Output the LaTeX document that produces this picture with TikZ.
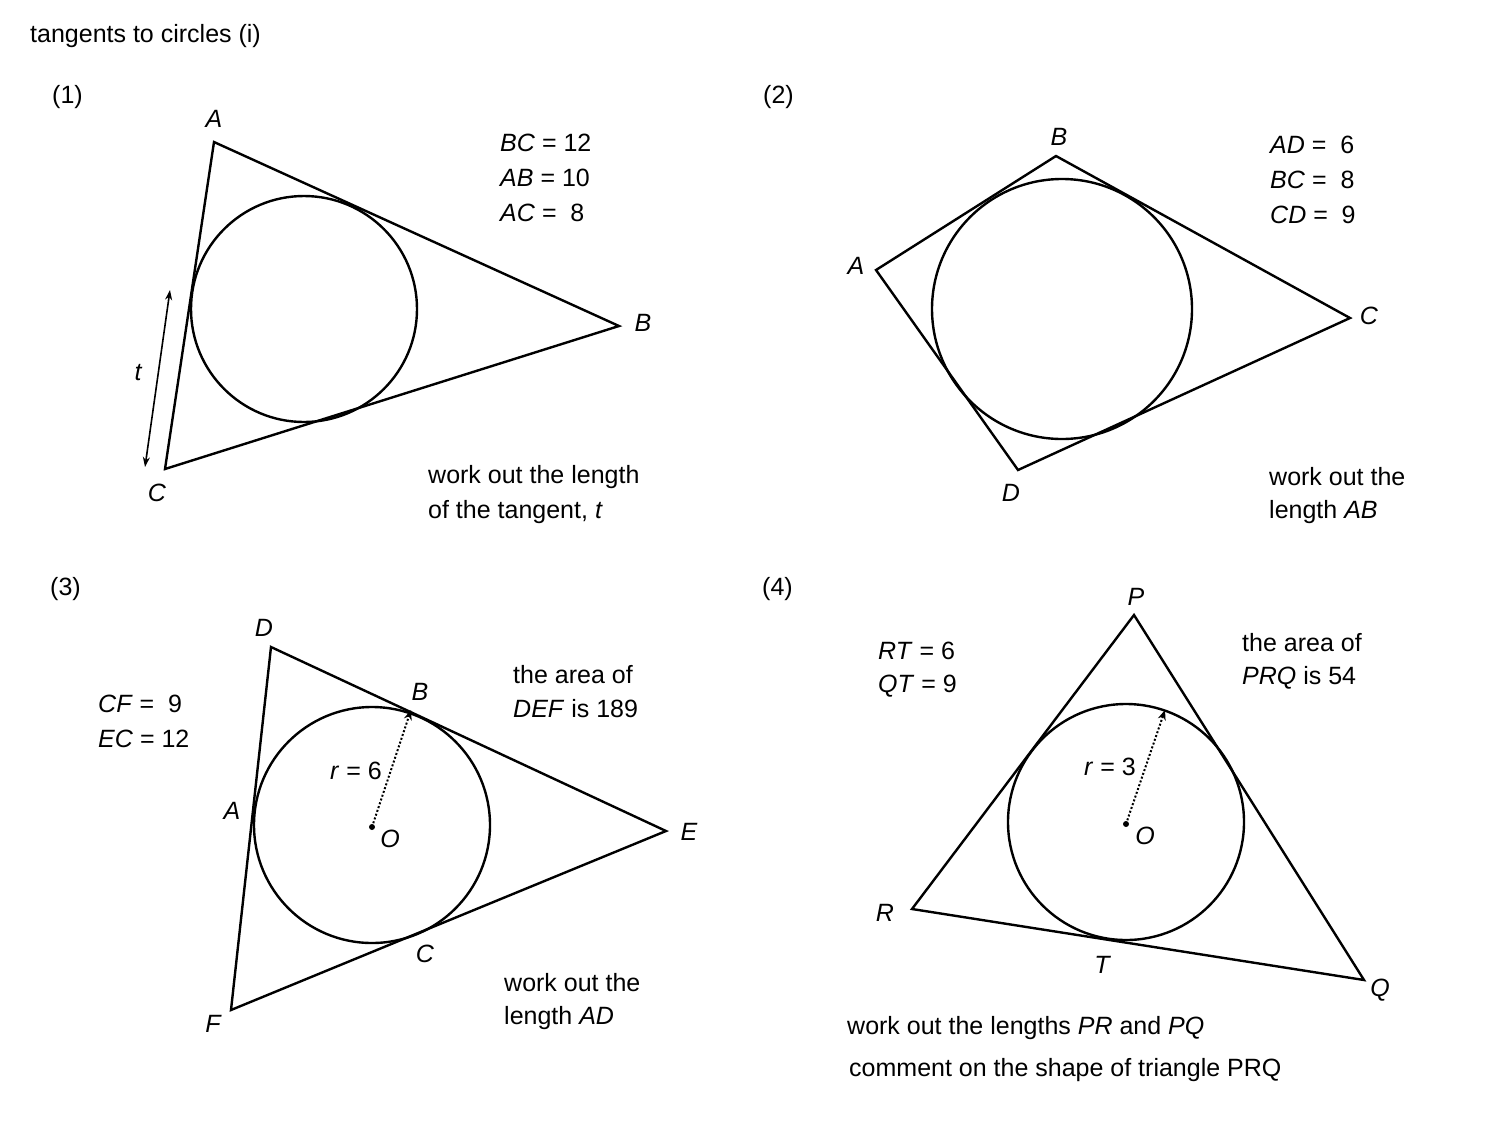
\documentclass[tikz,border=0pt]{standalone}
\usepackage{fontspec}
\setmainfont{Liberation Sans}
\usetikzlibrary{arrows.meta}
\begin{document}
\begin{tikzpicture}[x=1pt,y=-1pt,
  shp/.style={line width=2.4pt,line join=miter},
  lab/.style={font=\fontsize{25}{30}\selectfont\itshape,inner sep=0pt},
  txt/.style={font=\fontsize{25}{30}\selectfont,anchor=west,inner sep=0pt},
  darr/.style={dotted,line width=2pt,-{Stealth[length=10pt,width=8pt]}},
  tarr/.style={line width=1.6pt,{Stealth[length=10pt,width=7pt]}-{Stealth[length=10pt,width=7pt]}}]
\useasboundingbox (0,0) rectangle (1496,1125);
\node[txt] (title) at (30,36) {tangents to circles (i)};
\node[txt] (n1) at (52,97) {(1)};
\node[txt] (n2) at (763,97) {(2)};
\node[txt] (n3) at (50,589) {(3)};
\node[txt] (n4) at (762,589) {(4)};
% (1)
\coordinate (A1) at (214,142); \coordinate (B1) at (619,326); \coordinate (C1) at (165,469);
\draw[shp] (A1)--(B1)--(C1)--cycle;
\draw[shp] (304,309) circle (113);
\coordinate (t1) at (170,290); \coordinate (t2) at (145,467);
\draw[tarr] (t1)--(t2);
\node[lab] (tl) at (138,373) {t};
\node[lab] (la1) at (214,119) {A};
\node[lab] (lb1) at (643,323) {B};
\node[lab] (lc1) at (157,493) {C};
\node[txt] (g1a) at (500,143) {\textit{BC} = 12};
\node[txt] (g1b) at (500,178) {\textit{AB} = 10};
\node[txt] (g1c) at (500,213) {\textit{AC} = \ 8};
\node[txt] (q1a) at (428,477) {work out the length};
\node[txt] (q1b) at (428,512) {of the tangent, \textit{t}};
% (2)
\coordinate (A2) at (876,270); \coordinate (B2) at (1056,156); \coordinate (C2) at (1350,318); \coordinate (D2) at (1018,470);
\draw[shp] (A2)--(B2)--(C2)--(D2)--cycle;
\draw[shp] (1062,309) circle (130);
\node[lab] (lb2) at (1059,137) {B};
\node[lab] (la2) at (856,266) {A};
\node[lab] (lc2) at (1369,316) {C};
\node[lab] (ld2) at (1011,493) {D};
\node[txt] (g2a) at (1270,145) {\textit{AD} = \ 6};
\node[txt] (g2b) at (1270,180) {\textit{BC} = \ 8};
\node[txt] (g2c) at (1270,215) {\textit{CD} = \ 9};
\node[txt] (q2a) at (1269,477) {work out the};
\node[txt] (q2b) at (1269,512) {length \textit{AB}};
% (3)
\coordinate (D3) at (271,647); \coordinate (E3) at (666,831); \coordinate (F3) at (231,1010);
\draw[shp] (D3)--(E3)--(F3)--cycle;
\draw[shp] (372,825) circle (118);
\coordinate (O3) at (372,827); \coordinate (T3) at (411,710);
\fill (O3) circle (3);
\draw[darr] (O3)--(T3);
\node[lab] (ld3) at (264,628) {D};
\node[lab] (lb3) at (420,692) {B};
\node[lab] (la3) at (232,811) {A};
\node[lab] (le3) at (689,832) {E};
\node[lab] (lc3) at (425,954) {C};
\node[lab] (lf3) at (213,1024) {F};
\node[lab] (lo3) at (390,839) {O};
\node[txt,anchor=center] (r3) at (356,771) {\textit{r} = 6};
\node[txt] (g3a) at (98,704) {\textit{CF} = \ 9};
\node[txt] (g3b) at (98,739) {\textit{EC} = 12};
\node[txt] (a3a) at (513,675) {the area of};
\node[txt] (a3b) at (513,709) {\textit{DEF} is 189};
\node[txt] (q3a) at (504,983) {work out the};
\node[txt] (q3b) at (504,1018) {length \textit{AD}};
% (4)
\coordinate (P4) at (1134,615); \coordinate (R4) at (912,909); \coordinate (Q4) at (1364,980);
\draw[shp] (P4)--(Q4)--(R4)--cycle;
\draw[shp] (1126,822) circle (118);
\coordinate (O4) at (1126,824); \coordinate (T4) at (1165,710);
\fill (O4) circle (3);
\draw[darr] (O4)--(T4);
\node[lab] (lp4) at (1136,597) {P};
\node[lab] (lr4) at (885,913) {R};
\node[lab] (lq4) at (1380,990) {Q};
\node[lab] (lt4) at (1102,965) {T};
\node[lab] (lo4) at (1145,836) {O};
\node[txt,anchor=center] (r4) at (1110,767) {\textit{r} = 3};
\node[txt] (g4a) at (878,651) {\textit{RT} = 6};
\node[txt] (g4b) at (878,686) {\textit{QT} = 9};
\node[txt] (a4a) at (1242,643) {the area of};
\node[txt] (a4b) at (1242,678) {\textit{PRQ} is 54};
\node[txt] (q4a) at (847,1028) {work out the lengths \textit{PR} and \textit{PQ}};
\node[txt] (q4b) at (849,1070) {comment on the shape of triangle PRQ};
\end{tikzpicture}
\end{document}
